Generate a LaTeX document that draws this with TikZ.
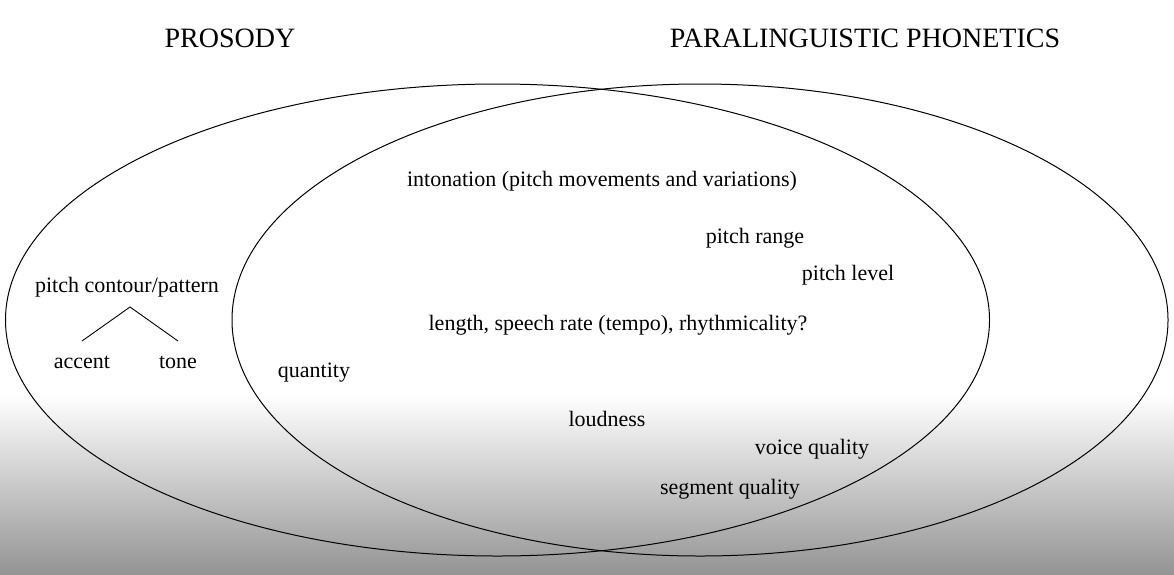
\documentclass[tikz,border=0pt]{standalone}
\usepackage{fontspec}
\setmainfont{Liberation Serif}
\begin{document}
\begin{tikzpicture}[x=1pt,y=-1pt,
  lbl/.style={font=\fontsize{22}{24}\selectfont,inner sep=0pt},
  ttl/.style={font=\fontsize{28}{30}\selectfont,inner sep=0pt},
  ell/.style={draw=black,line width=1pt}]
\useasboundingbox (0,0) rectangle (1174,574);
\fill[white] (0,0) rectangle (1174,395);
\shade[top color=white,bottom color=black!42] (0,395) rectangle (1174,574);
\draw[ell] (497.5,320) ellipse [x radius=492,y radius=236];
\draw[ell] (700,320) ellipse [x radius=468,y radius=236];
\node[ttl] (p) at (230,38) {PROSODY};
\node[ttl] (pp) at (865,38) {PARALINGUISTIC PHONETICS};
\node[lbl] (into) at (602,181) {intonation (pitch movements and variations)};
\node[lbl] (pr) at (755,238) {pitch range};
\node[lbl] (pl) at (848,275) {pitch level};
\node[lbl] (pc) at (127,287) {pitch contour/pattern};
\node[lbl] (len) at (618,325) {length, speech rate (tempo), rhythmicality?};
\node[lbl] (acc) at (82,362) {accent};
\node[lbl] (tone) at (178,362) {tone};
\node[lbl] (qu) at (314,373) {quantity};
\node[lbl] (lo) at (607,419) {loudness};
\node[lbl] (vq) at (812,449) {voice quality};
\node[lbl] (sq) at (730,489) {segment quality};
\coordinate (top) at (130,307);
\coordinate (la) at (82,341);
\coordinate (lt) at (178,341);
\draw[line width=0.9pt] (la) -- (top) -- (lt);
\end{tikzpicture}
\end{document}
